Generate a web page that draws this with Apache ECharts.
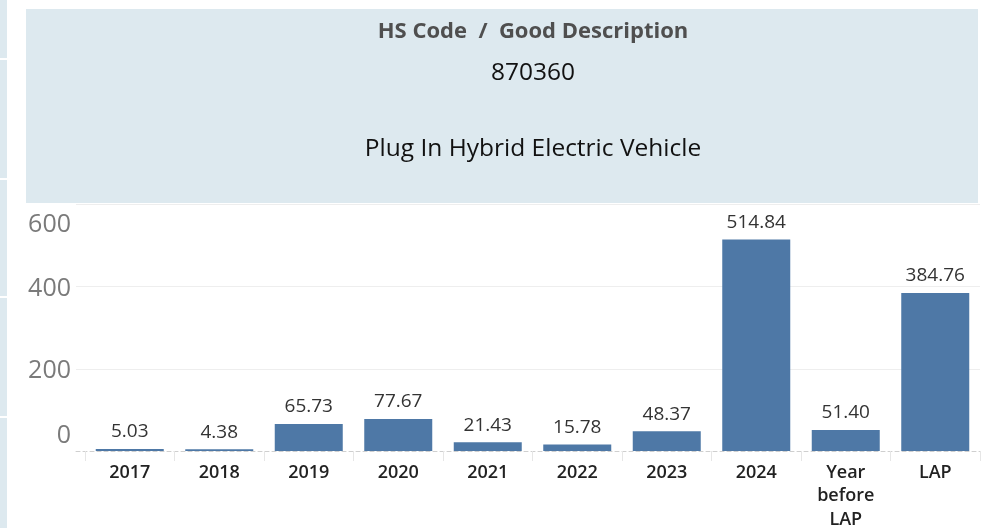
<!DOCTYPE html>
<html lang="en">
<head>
<meta charset="utf-8">
<title>870360</title>
<script src="https://cdn.jsdelivr.net/npm/echarts@6/dist/echarts.min.js"></script>
<style>
  html, body { margin: 0; padding: 0; background: #fff; }
  #chart { width: 990px; height: 528px; }
</style>
</head>
<body>
<div id="chart"></div>
<script>
// categories
var categories = ['2017', '2018', '2019', '2020', '2021', '2022', '2023', '2024', 'Year\nbefore\nLAP', 'LAP'];
// values
var values = [5.03, 4.38, 65.73, 77.67, 21.43, 15.78, 48.37, 514.84, 51.40, 384.76];
// y ticks
var yMin = 0, yMax = 600, yStep = 200;

var headTitle = 'HS Code  /  Good Description';
var hsCode = '870360';
var goodDesc = 'Plug In Hybrid Electric Vehicle';

var font = '"Open Sans", "Noto Sans", sans-serif';
var panelBlue = '#dde9ef';

var myChart = echarts.init(document.getElementById('chart'));

// side strips on the left edge
var strips = [[0, 58], [60, 178], [180, 296], [298, 416], [418, 528]];
var graphics = [];
for (var i = 0; i < strips.length; i++) {
  graphics.push({
    type: 'rect', silent: true,
    shape: { x: 0, y: strips[i][0], width: 7, height: strips[i][1] - strips[i][0] },
    style: { fill: panelBlue }
  });
}
// header panel
graphics.push({
  type: 'rect', silent: true, z: -1,
  shape: { x: 26, y: 9, width: 952, height: 194 },
  style: { fill: panelBlue }
});

var option = {
  animation: false,
  textStyle: { fontFamily: font },
  graphic: graphics,
  title: [
    { text: headTitle, left: 528, top: 16, textAlign: 'center',
      textStyle: { fontFamily: font, fontSize: 22, fontWeight: 'bold', color: '#4f4f4f' } },
    { text: hsCode, left: 528, top: 56, textAlign: 'center',
      textStyle: { fontFamily: font, fontSize: 24.5, fontWeight: 'normal', color: '#111' } },
    { text: goodDesc, left: 528, top: 132, textAlign: 'center',
      textStyle: { fontFamily: font, fontSize: 24.5, fontWeight: 'normal', color: '#111' } }
  ],
  grid: [
    { left: 85, right: 10, top: 204.5, bottom: 77, outerBoundsMode: 'none', containLabel: false },
    { left: 76, right: 10, top: 204.5, bottom: 77, outerBoundsMode: 'none', containLabel: false }
  ],
  xAxis: [
    {
      type: 'category', gridIndex: 0, data: categories,
      axisLine: { show: false },
      axisTick: { show: true, length: 10, lineStyle: { color: '#e6e6e6', width: 1 } },
      axisLabel: {
        interval: 0, margin: 10, color: '#222', fontWeight: 600,
        fontSize: 18, lineHeight: 23.5, fontFamily: font
      }
    },
    {
      type: 'value', gridIndex: 1, min: 0, max: 1,
      axisLine: { show: true, lineStyle: { color: '#cfcfcf', type: [4, 3], width: 1 } },
      axisTick: { show: false }, axisLabel: { show: false }, splitLine: { show: false }
    }
  ],
  yAxis: [
    {
      type: 'value', gridIndex: 0, min: yMin, max: yMax, interval: yStep,
      axisLine: { show: false }, axisTick: { show: false },
      axisLabel: { show: false }, splitLine: { show: false }
    },
    {
      type: 'value', gridIndex: 1, min: yMin, max: yMax, interval: yStep,
      axisLine: { show: false }, axisTick: { show: false },
      splitLine: { show: true, showMinLine: false, lineStyle: { color: '#eeeeee', width: 1 } },
      axisLabel: {
        margin: 5, color: '#7a7a7a', fontSize: 25, fontFamily: font,
        formatter: function (v) {
          if (v === yMax) return '{top|' + v + '}';
          if (v === yMin) return '{bot|' + v + '}';
          return '{mid|' + v + '}';
        },
        rich: {
          top: { fontSize: 25, color: '#7a7a7a', padding: [40, 0, 0, 0] },
          mid: { fontSize: 25, color: '#7a7a7a', padding: [4, 0, 0, 0] },
          bot: { fontSize: 25, color: '#7a7a7a', padding: [0, 0, 30, 0] }
        }
      }
    }
  ],
  series: [
    {
      type: 'bar', xAxisIndex: 0, yAxisIndex: 0,
      data: values, barWidth: 68,
      itemStyle: { color: '#4e78a6' },
      label: {
        show: true, position: 'top', distance: 7,
        fontSize: 19, lineHeight: 20, color: '#333', fontFamily: font,
        formatter: function (p) { return p.value.toFixed(2); }
      }
    }
  ]
};

myChart.setOption(option);
</script>
</body>
</html>
